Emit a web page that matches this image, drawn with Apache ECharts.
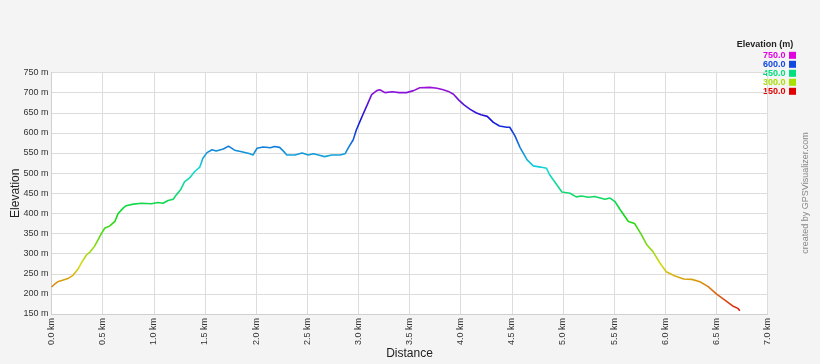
<!DOCTYPE html>
<html>
<head>
<meta charset="utf-8">
<script src="https://cdn.jsdelivr.net/npm/echarts@6/dist/echarts.min.js"></script>
<style>
html,body{margin:0;padding:0;background:#f4f4f4;}
#chart{width:820px;height:364px;}
</style>
</head>
<body>
<div id="chart"></div>
<script>
var distanceKm = [0.00,0.03,0.06,0.10,0.16,0.21,0.26,0.30,0.34,0.38,0.42,0.455,0.49,0.52,0.57,0.62,0.65,0.70,0.73,0.80,0.88,0.975,1.04,1.09,1.14,1.19,1.22,1.26,1.30,1.35,1.40,1.45,1.48,1.52,1.57,1.61,1.68,1.73,1.79,1.86,1.94,1.97,2.01,2.07,2.14,2.18,2.23,2.27,2.30,2.38,2.45,2.51,2.56,2.61,2.67,2.74,2.82,2.87,2.90,2.95,2.98,3.03,3.08,3.13,3.18,3.21,3.26,3.33,3.40,3.47,3.54,3.60,3.70,3.77,3.83,3.88,3.93,3.98,4.03,4.09,4.15,4.20,4.26,4.32,4.38,4.45,4.48,4.53,4.58,4.65,4.71,4.78,4.84,4.87,4.94,4.99,5.07,5.13,5.18,5.25,5.31,5.41,5.46,5.51,5.56,5.64,5.70,5.77,5.82,5.88,5.95,6.01,6.09,6.18,6.26,6.34,6.42,6.50,6.58,6.66,6.71,6.73];
var elevationM = [217,224,230,233,238,246,262,280,296,305,318,334,351,363,369,380,399,413,419,423,425,424,427,425,432,435,446,458,478,488,504,515,537,551,558,555,560,567,557,553,548,545,562,565,563,566,564,554,545,545,550,545,548,545,541,545,545,548,562,583,607,637,666,695,705,707,700,702,700,700,705,712,713,711,707,703,696,682,670,659,650,645,641,626,617,614,614,593,564,533,518,515,512,496,471,453,450,441,443,440,442,435,438,429,409,380,375,346,322,305,276,255,245,237,236,230,218,200,185,170,164,158];
var legendValues = [750, 600, 450, 300, 150];
var legendColors = ['#e000e0', '#1048e0', '#00e080', '#a8e000', '#e00000'];

function hsl(h, s, l) {
  s /= 100; l /= 100;
  var k = function(n){ return (n + h / 30) % 12; };
  var a = s * Math.min(l, 1 - l);
  var f = function(n){ return l - a * Math.max(-1, Math.min(k(n) - 3, Math.min(9 - k(n), 1))); };
  var toHex = function(x){ var v = Math.round(x * 255).toString(16); return v.length < 2 ? '0' + v : v; };
  return '#' + toHex(f(0)) + toHex(f(8)) + toHex(f(4));
}
var rampColors = [];
for (var i = 0; i <= 20; i++) rampColors.push(hsl(i * 15, 85, 46));

var seriesData = distanceKm.map(function(d, i){ return [d, elevationM[i]]; });

var chart = echarts.init(document.getElementById('chart'), null, {renderer: 'canvas'});
var font = 'Liberation Sans, Arial, sans-serif';

var graphics = [{
  type: 'text', x: 765, y: 45,
  style: {text: 'Elevation (m)', font: 'bold 9px ' + font, fill: '#222', align: 'center', verticalAlign: 'middle'}
}];
legendValues.forEach(function(v, i){
  graphics.push({
    type: 'text', x: 785.5, y: 55.3 + i * 9,
    style: {text: v.toFixed(1), font: 'bold 9px ' + font, fill: legendColors[i], align: 'right', verticalAlign: 'middle'}
  });
  graphics.push({
    type: 'rect', x: 789, y: 51.8 + i * 9,
    shape: {width: 7, height: 7}, style: {fill: legendColors[i]}
  });
});
graphics.push({
  type: 'text', x: 806, y: 193, rotation: Math.PI / 2,
  style: {text: 'created by GPSVisualizer.com', font: '9px ' + font, fill: '#888', align: 'center', verticalAlign: 'middle'}
});

chart.setOption({
  backgroundColor: '#f4f4f4',
  animation: false,
  grid: {left: 51.5, right: 52.5, top: 72.5, bottom: 50, outerBoundsMode: 'none', containLabel: false,
    show: true, backgroundColor: '#ffffff', borderWidth: 0},
  visualMap: {
    show: false, type: 'continuous', dimension: 1, min: 150, max: 750,
    inRange: {color: rampColors}
  },
  xAxis: {
    type: 'value', min: 0, max: 7, interval: 0.5,
    name: 'Distance', nameLocation: 'middle', nameGap: 34, nameMoveOverlap: false,
    nameTextStyle: {fontFamily: font, fontSize: 12, color: '#222'},
    axisLine: {show: true, lineStyle: {color: '#cfcfcf'}},
    axisTick: {show: false},
    splitLine: {show: true, lineStyle: {color: '#dcdcdc', width: 1}},
    axisLabel: {rotate: 90, margin: 4, fontFamily: font, fontSize: 9, color: '#333',
      formatter: function(v){ return v.toFixed(1) + ' km'; }}
  },
  yAxis: {
    type: 'value', min: 150, max: 750, interval: 50,
    name: 'Elevation', nameLocation: 'middle', nameGap: 30, nameRotate: 90, nameMoveOverlap: false,
    nameTextStyle: {fontFamily: font, fontSize: 12, color: '#222'},
    axisLine: {show: true, lineStyle: {color: '#cfcfcf'}},
    axisTick: {show: false},
    splitLine: {show: true, lineStyle: {color: '#dcdcdc', width: 1}},
    axisLabel: {margin: 3, fontFamily: font, fontSize: 9, color: '#333',
      formatter: function(v){ return v + ' m'; }}
  },
  series: [{
    type: 'line', data: seriesData, showSymbol: false, smooth: false,
    lineStyle: {width: 1.6}
  }],
  graphic: graphics
});
</script>
</body>
</html>
